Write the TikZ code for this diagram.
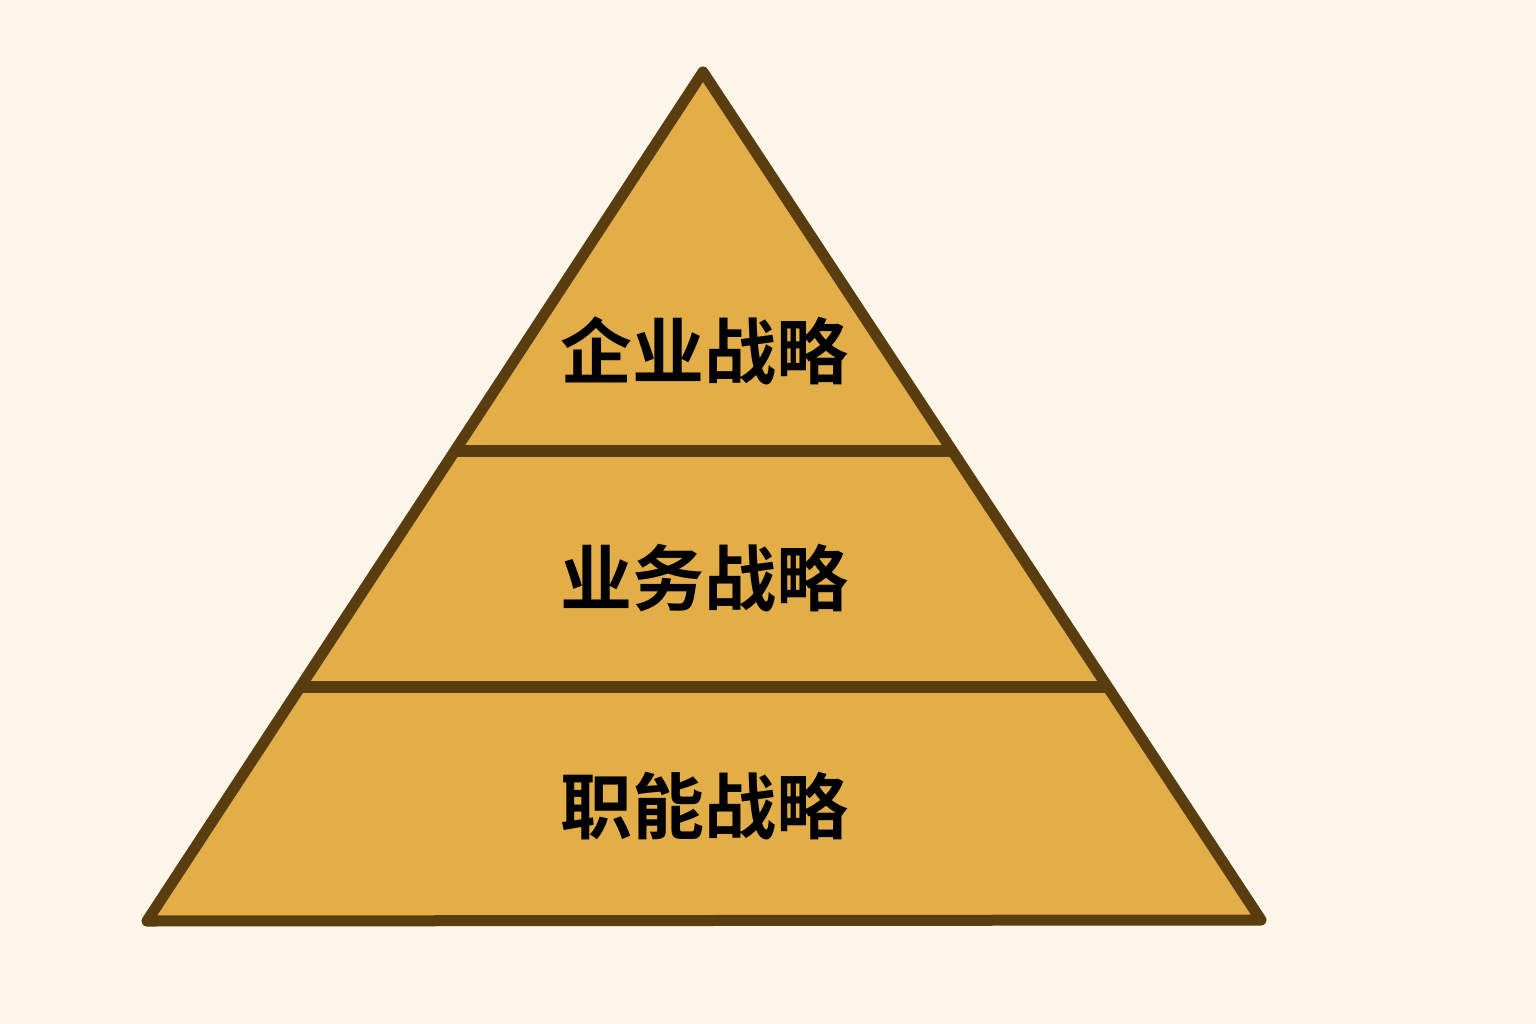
\documentclass[tikz,border=0pt]{standalone}
\usepackage{fontspec}
\newfontfamily\cjk{Noto Sans CJK SC Bold}
\definecolor{bgc}{HTML}{FCF6EA}
\definecolor{fillc}{HTML}{E3AE48}
\definecolor{linec}{HTML}{5A3D0F}
\begin{document}
\begin{tikzpicture}[x=1pt,y=-1pt,
  tier/.style={font=\cjk\fontsize{72}{78}\selectfont, text=black, inner sep=0pt, anchor=center}]
\fill[bgc] (0,0) rectangle (1536,1024);
\useasboundingbox (0,0) rectangle (1536,1024);
\coordinate (apex) at (703,72);
\coordinate (bl) at (147,921);
\coordinate (br) at (1261,920);
\coordinate (l1) at (455,451);
\coordinate (r1) at (951,451);
\coordinate (l2) at (301,687);
\coordinate (r2) at (1107,687);
\draw[fill=fillc, draw=linec, line width=11pt, line join=round] (apex) -- (br) -- (bl) -- cycle;
\draw[linec, line width=11.5pt] (l1) -- (r1);
\draw[linec, line width=11.5pt] (l2) -- (r2);
\node[tier] (t1) at (704,351) {企业战略};
\node[tier] (t2) at (704,578) {业务战略};
\node[tier] (t3) at (704,806) {职能战略};
\end{tikzpicture}
\end{document}
